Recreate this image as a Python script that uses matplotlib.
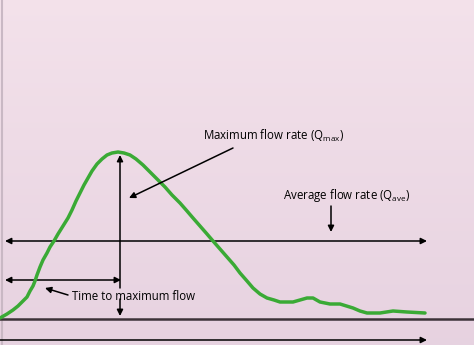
import numpy as np
import matplotlib.pyplot as plt

# flow curve (x = time, y = pixel height, downwards)
time = [0, 7, 13, 18, 23, 27, 30, 33, 35, 37, 40, 43, 47, 50, 54, 58, 63, 68,
        72, 76, 80, 84, 88, 92, 97, 102, 107, 112, 118, 124, 130, 136, 143,
        150, 158, 165, 172, 180, 187, 193, 200, 207, 213, 220, 227, 234, 240,
        247, 253, 260, 267, 274, 280, 287, 293, 300, 307, 313, 320, 330, 340,
        353, 360, 367, 380, 393, 407, 425]
flow = [318, 314, 310, 306, 301, 297, 291, 286, 281, 275, 267, 260, 253, 247,
        241, 234, 226, 218, 210, 201, 193, 185, 178, 171, 164, 159, 155, 153,
        152, 153, 155, 159, 165, 172, 180, 187, 195, 203, 211, 218, 226, 234,
        241, 249, 257, 265, 273, 281, 288, 294, 298, 300, 302, 302, 302, 300,
        298, 298, 302, 304, 304, 308, 311, 313, 313, 311, 312, 313]

label_qmax = "Maximum flow rate (Q$_{\\mathregular{max}}$)"
label_qave = "Average flow rate (Q$_{\\mathregular{ave}}$)"
label_tmax = "Time to maximum flow"

W, H = 474, 345
fig = plt.figure(figsize=(W / 100, H / 100), dpi=100)
ax = fig.add_axes([0, 0, 1, 1])
ax.set_xlim(0, W)
ax.set_ylim(H, 0)
ax.axis("off")

# pink background gradient
top = np.array([0.955, 0.885, 0.920])
bot = np.array([0.905, 0.825, 0.880])
t = np.linspace(0, 1, 200)[:, None]
grad = (top * (1 - t) + bot * t)[:, None, :]
ax.imshow(grad, extent=[0, W, H, 0], aspect="auto", zorder=0)
ax.axvline(2.5, color="#c9b8c4", lw=1.5, zorder=1)

fs = 8.3
plt.rcParams["font.family"] = ["Open Sans", "DejaVu Sans"]
plt.rcParams["mathtext.fontset"] = "custom"
plt.rcParams["mathtext.rm"] = "Open Sans"
aprops = dict(arrowstyle="-|>", color="black", lw=1.1, mutation_scale=9,
              shrinkA=0, shrinkB=0)
dprops = dict(arrowstyle="<|-|>", color="black", lw=1.1, mutation_scale=9,
              shrinkA=0, shrinkB=0)

# axes lines
ax.plot([0, W], [319, 319], color="#3c3238", lw=1.8, zorder=2)
ax.annotate("", xy=(427, 340), xytext=(0, 340), arrowprops=aprops)

# average line and time arrow
ax.annotate("", xy=(5, 241), xytext=(427, 241), arrowprops=dprops)
ax.annotate("", xy=(5, 280), xytext=(121, 280), arrowprops=dprops)
ax.annotate("", xy=(120, 155), xytext=(120, 288), arrowprops=aprops)
ax.annotate("", xy=(120, 316), xytext=(120, 299), arrowprops=aprops)

# curve
ax.plot(time, flow, color="#3aaa35", lw=2.5, solid_capstyle="round",
        solid_joinstyle="round", zorder=3)

# labels
ax.text(203, 136, label_qmax, fontsize=fs, va="center", ha="left")
ax.annotate("", xy=(129, 198), xytext=(233, 148), arrowprops=aprops)
ax.text(283, 196, label_qave, fontsize=fs, va="center", ha="left")
ax.annotate("", xy=(331, 232), xytext=(331, 206), arrowprops=aprops)
ax.text(72, 296, label_tmax, fontsize=fs, va="center", ha="left")
ax.annotate("", xy=(45, 288), xytext=(68, 295), arrowprops=aprops)

fig.savefig("out.png", dpi=100)
